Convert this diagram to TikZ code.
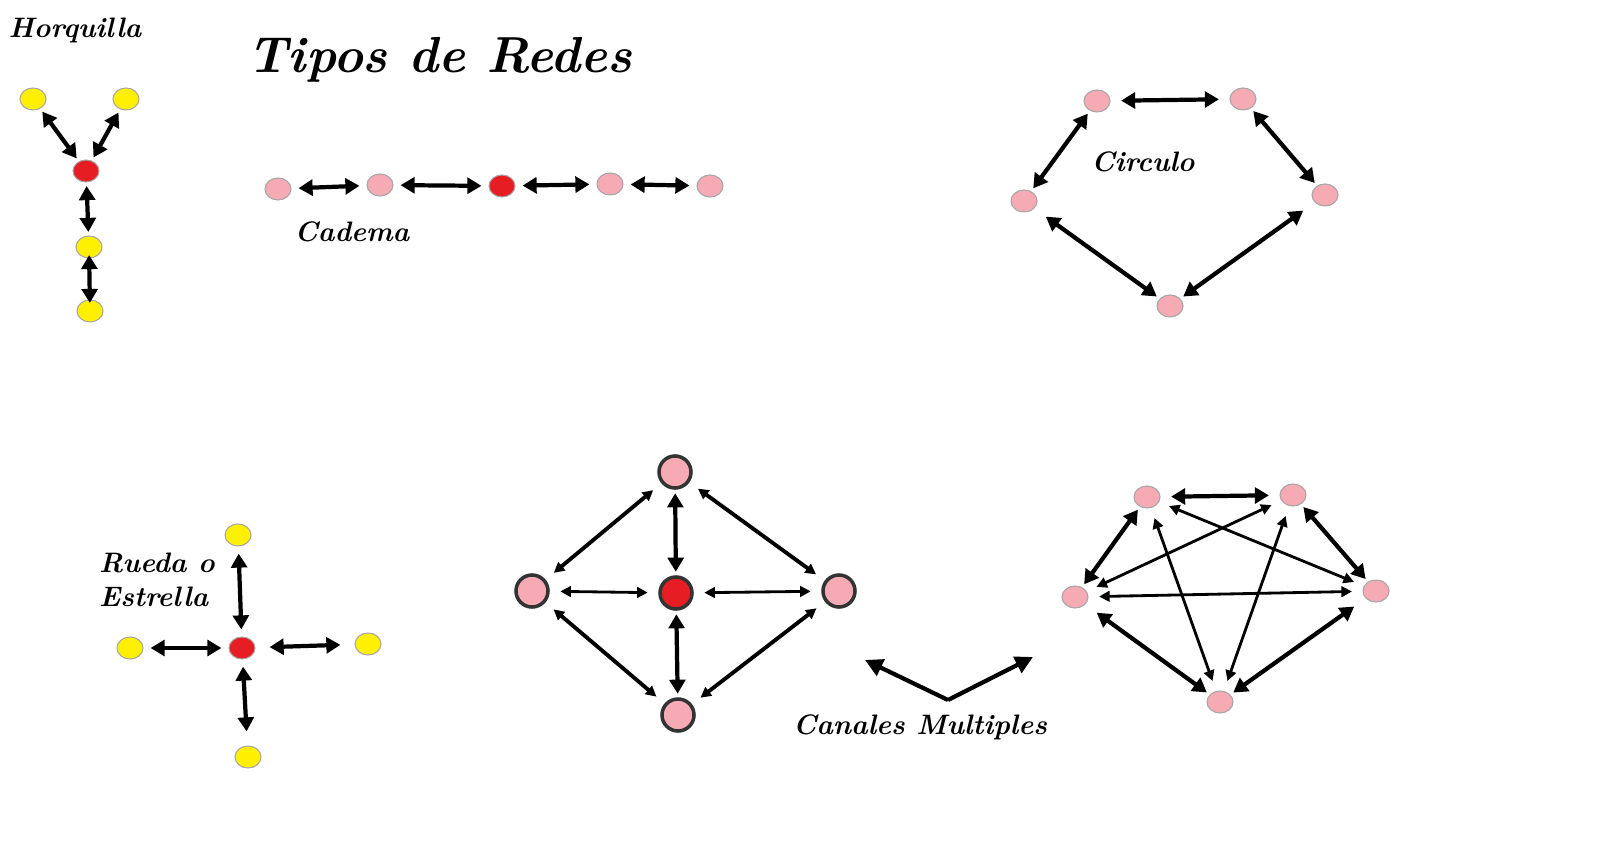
\documentclass[tikz,border=0pt]{standalone}
\usetikzlibrary{shapes.geometric,arrows.meta}
\definecolor{yel}{RGB}{255,240,0}
\definecolor{pnk}{RGB}{245,170,180}
\definecolor{rd}{RGB}{230,30,35}
\begin{document}
\begin{tikzpicture}[x=0.01cm,y=-0.01cm,
 nd/.style={ellipse,minimum width=0.26cm,minimum height=0.22cm,inner sep=0pt,draw=gray!70,line width=0.3pt},
 big/.style={circle,minimum size=0.32cm,inner sep=0pt,draw=black!80,line width=1pt},
 ynd/.style={nd,fill=yel}, pnd/.style={nd,fill=pnk}, rnd/.style={nd,fill=rd},
 bp/.style={big,fill=pnk}, br/.style={big,fill=rd},
 ar/.style={{Triangle[length=4pt,width=4.5pt]}-{Triangle[length=4pt,width=4.5pt]},line width=1.2pt,shorten <=1pt,shorten >=1pt},
 art/.style={{Triangle[length=3pt,width=3pt]}-{Triangle[length=3pt,width=3pt]},line width=0.8pt,shorten <=1pt,shorten >=1pt},
 lbl/.style={font=\bfseries\itshape\footnotesize}]
\useasboundingbox (0,0) rectangle (1600,864);
% Horquilla
\node[lbl] (th) at (75,30) {Horquilla};
\node[ynd] (h1) at (33,99) {}; \node[ynd] (h2) at (126,99) {};
\node[rnd] (h3) at (86,171) {}; \node[ynd] (h4) at (89,247) {}; \node[ynd] (h5) at (90,311) {};
\draw[ar] (h1)--(h3); \draw[ar] (h2)--(h3); \draw[ar] (h3)--(h4); \draw[ar,shorten <=-1pt,shorten >=-1pt] (h4)--(h5);
% title
\node[font=\bfseries\itshape\Large] (tt) at (440,60) {Tipos de Redes};
% Cadena
\node[pnd] (c1) at (278,189) {}; \node[pnd] (c2) at (380,185) {}; \node[rnd] (c3) at (502,186) {};
\node[pnd] (c4) at (610,184) {}; \node[pnd] (c5) at (710,186) {};
\draw[ar,shorten <=2pt,shorten >=2pt] (c1)--(c2); \draw[ar,shorten <=2pt,shorten >=2pt] (c2)--(c3); \draw[ar,shorten <=2pt,shorten >=2pt] (c3)--(c4); \draw[ar,shorten <=2pt,shorten >=2pt] (c4)--(c5);
\node[lbl] (tc) at (352,232) {Cadema};
% Circulo
\node[pnd] (o1) at (1097,101) {}; \node[pnd] (o2) at (1243,99) {}; \node[pnd] (o3) at (1325,195) {};
\node[pnd] (o4) at (1170,306) {}; \node[pnd] (o5) at (1024,201) {};
\draw[ar,shorten <=3pt,shorten >=3pt] (o1)--(o2); \draw[ar] (o2)--(o3); \draw[ar,shorten <=4pt] (o3)--(o4); \draw[ar,shorten >=4pt] (o4)--(o5); \draw[ar] (o5)--(o1);
\node[lbl] (to) at (1143,162) {Circulo};
% Rueda
\node[lbl,align=left] (tr) at (157,580) {Rueda o\\Estrella};
\node[ynd] (r1) at (238,535) {}; \node[ynd] (r2) at (130,648) {}; \node[rnd] (r0) at (242,648) {};
\node[ynd] (r3) at (368,644) {}; \node[ynd] (r4) at (248,757) {};
\draw[ar,shorten >=2pt,shorten <=2pt] (r0)--(r1); \draw[ar,shorten >=2pt,shorten <=2pt] (r0)--(r2); \draw[ar,shorten >=4pt,shorten <=4pt] (r0)--(r3); \draw[ar,shorten >=4pt,shorten <=2pt] (r0)--(r4);
% middle canales
\node[bp] (m1) at (675,472) {}; \node[bp] (m2) at (532,591) {}; \node[br] (m0) at (676,593) {};
\node[bp] (m3) at (839,591) {}; \node[bp] (m4) at (678,715) {};
\draw[ar] (m0)--(m1); \draw[ar] (m0)--(m4);
\draw[art,shorten <=3pt,shorten >=3pt] (m0)--(m2); \draw[art,shorten <=3pt,shorten >=3pt] (m0)--(m3);
\draw[art,line width=1.1pt,shorten <=3pt,shorten >=3pt] (m1)--(m2); \draw[art,line width=1.1pt,shorten <=3pt,shorten >=3pt] (m1)--(m3);
\draw[art,line width=1.1pt,shorten <=3pt,shorten >=3pt] (m2)--(m4); \draw[art,line width=1.1pt,shorten <=3pt,shorten >=3pt] (m3)--(m4);
% V arrows
\coordinate (v0) at (948,700); \coordinate (va) at (865,660); \coordinate (vb) at (1033,657);
\draw[-{Triangle[length=5pt,width=5pt]},line width=1.2pt] (v0)--(va);
\draw[-{Triangle[length=5pt,width=5pt]},line width=1.2pt] (v0)--(vb);
\node[lbl] (tm) at (920,727) {Canales Multiples};
% complete network
\node[pnd] (k1) at (1147,497) {}; \node[pnd] (k2) at (1293,495) {}; \node[pnd] (k3) at (1376,591) {};
\node[pnd] (k4) at (1220,702) {}; \node[pnd] (k5) at (1075,597) {};
\draw[ar,shorten <=3pt,shorten >=3pt] (k1)--(k2); \draw[ar] (k2)--(k3); \draw[ar,shorten <=4pt] (k3)--(k4); \draw[ar,shorten >=4pt] (k4)--(k5); \draw[ar] (k5)--(k1);
\draw[art,shorten <=3pt,shorten >=3pt] (k1)--(k3); \draw[art,shorten <=3pt,shorten >=3pt] (k1)--(k4);
\draw[art,shorten <=3pt,shorten >=3pt] (k2)--(k4); \draw[art,shorten <=3pt,shorten >=3pt] (k2)--(k5);
\draw[art,shorten <=3pt,shorten >=3pt] (k3)--(k5);
\end{tikzpicture}
\end{document}
